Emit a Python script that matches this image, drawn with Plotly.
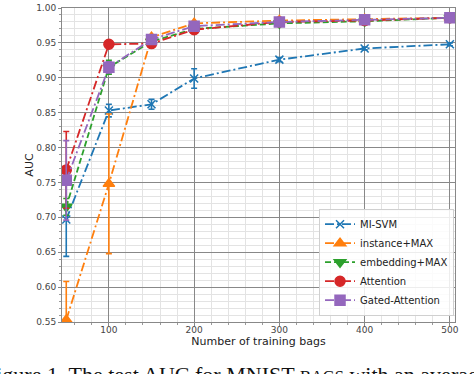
import plotly.graph_objects as go

bags = [50, 100, 150, 200, 300, 400, 500]

mi_svm = [0.697, 0.853, 0.862, 0.899, 0.926, 0.942, 0.948]
mi_svm_err = [0.053, 0.009, 0.007, 0.014, 0.003, 0.002, 0.002]

inst_max = [0.553, 0.748, 0.958, 0.978, 0.982, 0.984, 0.986]
inst_max_err = [0.055, 0.100, 0.003, 0.002, 0.002, 0.001, 0.001]

emb_max = [0.715, 0.915, 0.952, 0.970, 0.978, 0.981, 0.986]
emb_max_err = [0.012, 0.010, 0.003, 0.002, 0.002, 0.001, 0.001]

attention = [0.768, 0.948, 0.949, 0.969, 0.980, 0.982, 0.986]
attention_err = [0.055, 0.004, 0.004, 0.003, 0.002, 0.001, 0.001]

gated = [0.753, 0.915, 0.955, 0.974, 0.980, 0.983, 0.986]
gated_err = [0.057, 0.008, 0.003, 0.002, 0.002, 0.001, 0.001]

x_ticks = [100, 200, 300, 400, 500]
y_ticks = [0.55, 0.60, 0.65, 0.70, 0.75, 0.80, 0.85, 0.90, 0.95, 1.00]

series = [
    ("MI-SVM", mi_svm, mi_svm_err, "#1f77b4", "x-thin", 8, "9px,3px,2px,3px"),
    ("instance+MAX", inst_max, inst_max_err, "#ff7f0e", "triangle-up", 10, "9px,3px,2px,3px"),
    ("embedding+MAX", emb_max, emb_max_err, "#2ca02c", "triangle-down", 10, "6px,3px"),
    ("Attention", attention, attention_err, "#d62728", "circle", 10, "9px,3px,2px,3px"),
    ("Gated-Attention", gated, gated_err, "#9467bd", "square", 10, "9px,3px,2px,3px"),
]

fig = go.Figure()
for name, vals, errs, color, sym, size, dash in series:
    fig.add_trace(go.Scatter(
        x=bags, y=vals, name=name, mode="lines+markers",
        line=dict(color=color, width=1.8, dash=dash),
        marker=dict(symbol=sym, size=size, color=color,
                    line=dict(color=color, width=1.5)),
        error_y=dict(type="data", array=errs, visible=True,
                     color=color, thickness=1.6, width=3),
        cliponaxis=True,
    ))

axis_common = dict(
    showline=True, linecolor="#888", linewidth=1, mirror=True,
    gridcolor="#888888", gridwidth=1, zeroline=False,
    tickfont=dict(family="DejaVu Sans", size=9, color="#444"),
    ticks="outside", ticklen=3, tickcolor="#888",
    ticklabeloverflow="allow",
)

fig.update_xaxes(
    range=[45, 506], tickvals=x_ticks,
    ticklabelstandoff=-4,
    title=dict(text="Number of training bags",
               font=dict(family="DejaVu Sans", size=11, color="#222"),
               standoff=2),
    minor=dict(dtick=20, tick0=0, showgrid=True, gridcolor="#e3e3e3",
               ticks="outside", ticklen=2, tickcolor="#999"),
    **axis_common,
)
fig.update_yaxes(
    range=[0.55, 1.0], tickvals=y_ticks, tickformat=".2f",
    title=dict(text="AUC",
               font=dict(family="DejaVu Sans", size=11, color="#222"),
               standoff=0),
    minor=dict(dtick=0.01, tick0=0.55, showgrid=True, gridcolor="#e3e3e3",
               ticks="outside", ticklen=2, tickcolor="#999"),
    **axis_common,
)

fig.add_annotation(
    xref="paper", yref="paper", x=-0.203, y=-0.121,
    xanchor="left", yanchor="top", showarrow=False,
    text="Figure 1. The test AUC for MNIST-<span style='font-size:16.5px'>BAGS</span> with an average",
    font=dict(family="Liberation Serif", size=22, color="#111"),
)

fig.update_layout(
    width=474, height=374,
    margin=dict(l=62, r=19, t=3, b=52),
    paper_bgcolor="white", plot_bgcolor="white",
    showlegend=True,
    legend=dict(
        x=0.654, y=0.02, xanchor="left", yanchor="bottom",
        bgcolor="rgba(255,255,255,0.85)", bordercolor="#d0d0d0", borderwidth=1,
        font=dict(family="DejaVu Sans", size=10, color="#222"),
        tracegroupgap=0, itemwidth=30,
    ),
)

fig.write_html("out.html", config={"displayModeBar": False})

# remove default page margin so the figure sits at the window's top-left corner
with open("out.html", "r", encoding="utf-8") as f:
    html = f.read()
html = html.replace("<head>", "<head><style>html,body{margin:0;padding:0;overflow:hidden;}</style>", 1)
with open("out.html", "w", encoding="utf-8") as f:
    f.write(html)
